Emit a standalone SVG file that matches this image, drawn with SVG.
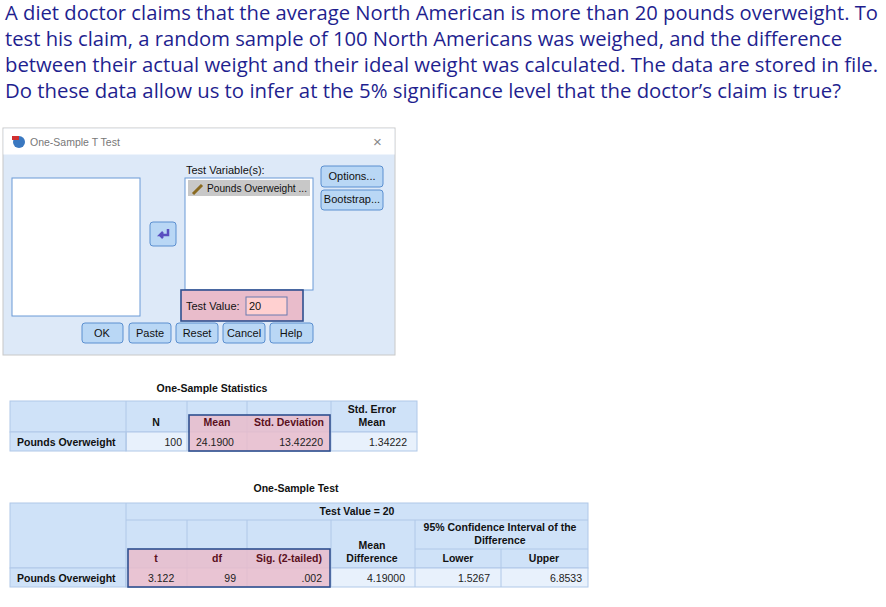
<svg xmlns="http://www.w3.org/2000/svg" width="886" height="607" viewBox="0 0 886 607">
<style>
.q{font-family:"Open Sans","Liberation Sans",sans-serif;font-size:19.5px;fill:#1f1f8f}
.s{font-family:"Liberation Sans",Arial,sans-serif;font-size:11px;fill:#111}
.b{font-family:"Liberation Sans",Arial,sans-serif;font-size:10.5px;font-weight:bold;fill:#111}
.r{fill:#5a1020}
.n{font-family:"Liberation Sans",Arial,sans-serif;font-size:10.5px;fill:#222}
.btn{fill:#b9d7f5;stroke:#5b8fd0;stroke-width:1}
.cell{stroke:#b0c8e8;stroke-width:1}
.hl{fill:#e9bccb;stroke:none;opacity:.85}
.box{fill:none;stroke:#2f4f8f;stroke-width:1.6}
</style>
<rect width="886" height="607" fill="#fff"/>
<g id="question">
<text class="q" x="5" y="20" textLength="873" lengthAdjust="spacingAndGlyphs">A diet doctor claims that the average North American is more than 20 pounds overweight. To</text>
<text class="q" x="5" y="46" textLength="837" lengthAdjust="spacingAndGlyphs">test his claim, a random sample of 100 North Americans was weighed, and the difference</text>
<text class="q" x="5" y="72" textLength="873" lengthAdjust="spacingAndGlyphs">between their actual weight and their ideal weight was calculated. The data are stored in file.</text>
<text class="q" x="5" y="98" textLength="836" lengthAdjust="spacingAndGlyphs">Do these data allow us to infer at the 5% significance level that the doctor’s claim is true?</text>
</g>
<g id="dialog">
<rect x="3" y="128" width="392" height="227" fill="#dde9f8" stroke="#c8c8c8"/>
<rect x="3.5" y="128.5" width="391" height="26" fill="#fff"/>
<circle cx="19" cy="142" r="6" fill="#3a78c0"/><rect x="12" y="136" width="7" height="4" fill="#d03030"/>
<text x="30" y="146" style="font-family:'Liberation Sans',sans-serif;font-size:10.5px;fill:#777">One-Sample T Test</text>
<text x="373" y="147" style="font-family:'Liberation Sans',sans-serif;font-size:15px;fill:#888">×</text>
<rect x="12" y="178" width="128" height="138" fill="#fff" stroke="#6a9ad6"/>
<rect x="150" y="222" width="26" height="24" rx="3" class="btn"/>
<path d="M168 229 v6 h-8 l3 -3 M160 235 l3 3" stroke="#5a4fc0" stroke-width="2.5" fill="none"/>
<text class="s" x="186" y="174">Test Variable(s):</text>
<rect x="185" y="178" width="128" height="112" fill="#fff" stroke="#6a9ad6"/>
<rect x="188" y="180" width="122" height="16" fill="#c8c8c8"/>
<path d="M193 194 l9 -9" stroke="#8a6a20" stroke-width="3"/>
<text class="s" x="207" y="192" textLength="100" lengthAdjust="spacingAndGlyphs">Pounds Overweight ...</text>
<rect x="321" y="166" width="62" height="21" rx="3" class="btn"/><text class="s" x="352" y="180" text-anchor="middle">Options...</text>
<rect x="321" y="190" width="62" height="20" rx="3" class="btn"/><text class="s" x="352" y="203" text-anchor="middle">Bootstrap...</text>
<rect x="181" y="290" width="122" height="31" fill="#e9bccb" stroke="#2f4f8f" stroke-width="1.6"/>
<text class="s" x="186" y="310">Test Value:</text>
<rect x="246" y="297" width="41" height="18" fill="#ffd0d0" stroke="#6a7ab0"/>
<text class="s" x="249" y="310">20</text>
<rect x="82" y="323" width="41" height="20" rx="3" class="btn" stroke="#2f4f8f"/><text class="s" x="102" y="337" text-anchor="middle">OK</text>
<rect x="129" y="323" width="42" height="20" rx="3" class="btn"/><text class="s" x="150" y="337" text-anchor="middle">Paste</text>
<rect x="176" y="323" width="42" height="20" rx="3" class="btn"/><text class="s" x="197" y="337" text-anchor="middle">Reset</text>
<rect x="223" y="323" width="42" height="20" rx="3" class="btn"/><text class="s" x="244" y="337" text-anchor="middle">Cancel</text>
<rect x="270" y="323" width="43" height="20" rx="3" class="btn"/><text class="s" x="291" y="337" text-anchor="middle">Help</text>
</g>
<g id="stats">
<text class="b" x="212" y="392" text-anchor="middle">One-Sample Statistics</text>
<rect x="10" y="401" width="407" height="31" fill="#cfe2f8" class="cell"/>
<rect x="126" y="432" width="291" height="19" fill="#e8f1fc" class="cell"/>
<rect x="10" y="432" width="116" height="19" fill="#cfe2f8" class="cell"/>
<path d="M126 401 V451 M187 401 V451 M247 401 V451 M331 401 V451" class="cell"/>
<rect x="189" y="415" width="141" height="36" class="hl"/>
<rect x="189" y="415" width="141" height="36" class="box"/>
<text class="b" x="17" y="446">Pounds Overweight</text>
<text class="b" x="156" y="426" text-anchor="middle">N</text>
<text class="b r" x="217" y="426" text-anchor="middle">Mean</text>
<text class="b r" x="289" y="426" text-anchor="middle">Std. Deviation</text>
<text class="b" x="372" y="413" text-anchor="middle">Std. Error</text>
<text class="b" x="372" y="426" text-anchor="middle">Mean</text>
<text class="n" x="182" y="446" text-anchor="end">100</text>
<text class="n" x="196" y="446">24.1900</text>
<text class="n" x="323" y="446" text-anchor="end">13.42220</text>
<text class="n" x="407" y="446" text-anchor="end">1.34222</text>
</g>
<g id="test">
<text class="b" x="296" y="492" text-anchor="middle">One-Sample Test</text>
<rect x="10" y="503" width="578" height="65" fill="#cfe2f8" class="cell"/>
<rect x="10" y="568" width="116" height="19" fill="#cfe2f8" class="cell"/>
<rect x="126" y="568" width="462" height="19" fill="#e8f1fc" class="cell"/>
<path d="M126 503 V587 M126 520 H588 M187 520 V587 M247 520 V587 M331 520 V587 M415 520 V587 M415 549 H588 M501 549 V587" class="cell"/>
<rect x="128" y="549" width="202" height="38" class="hl"/>
<rect x="128" y="549" width="202" height="38" class="box"/>
<text class="b" x="357" y="515" text-anchor="middle">Test Value = 20</text>
<text class="b" x="500" y="531" text-anchor="middle">95% Confidence Interval of the</text>
<text class="b" x="500" y="544" text-anchor="middle">Difference</text>
<text class="b" x="372" y="549" text-anchor="middle">Mean</text>
<text class="b" x="372" y="562" text-anchor="middle">Difference</text>
<text class="b r" x="156" y="562" text-anchor="middle">t</text>
<text class="b r" x="217" y="562" text-anchor="middle">df</text>
<text class="b r" x="289" y="562" text-anchor="middle">Sig. (2-tailed)</text>
<text class="b" x="458" y="562" text-anchor="middle">Lower</text>
<text class="b" x="544" y="562" text-anchor="middle">Upper</text>
<text class="b" x="17" y="582">Pounds Overweight</text>
<text class="n" x="148" y="582">3.122</text>
<text class="n" x="236" y="582" text-anchor="end">99</text>
<text class="n" x="322" y="582" text-anchor="end">.002</text>
<text class="n" x="405" y="582" text-anchor="end">4.19000</text>
<text class="n" x="490" y="582" text-anchor="end">1.5267</text>
<text class="n" x="582" y="582" text-anchor="end">6.8533</text>
</g>
</svg>
